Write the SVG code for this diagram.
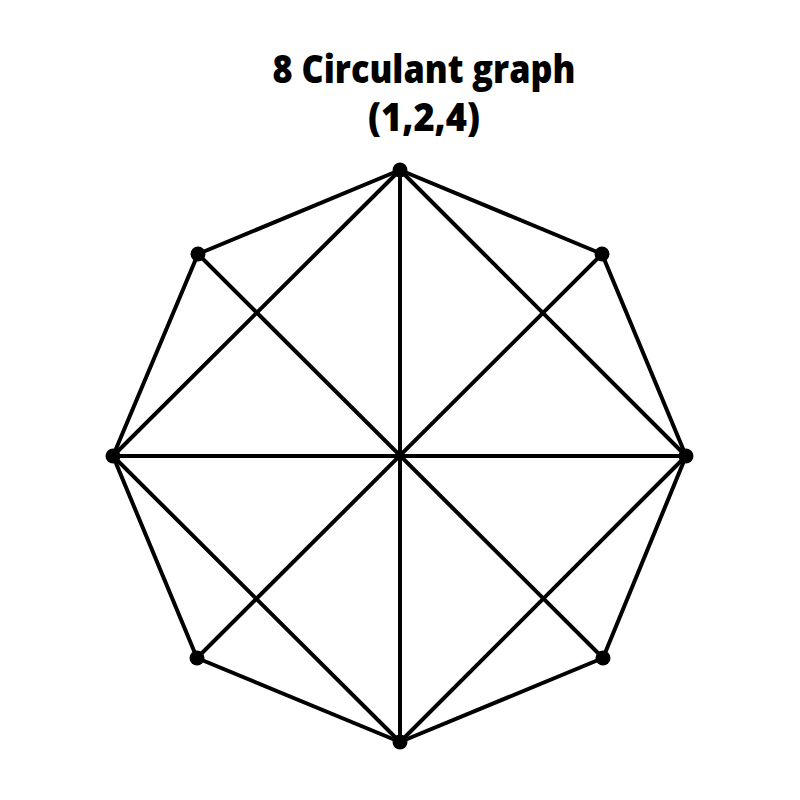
<svg xmlns="http://www.w3.org/2000/svg" width="800" height="800" viewBox="0 0 800 800">
<style>
.e{stroke:#000;stroke-width:4;stroke-linecap:round;fill:none}
.n{fill:#000}
.t{font-family:"Open Sans","Liberation Sans",sans-serif;font-weight:800;fill:#000;text-anchor:middle}
</style>
<rect width="800" height="800" fill="#fff"/>
<text class="t" x="424" y="83" font-size="38" textLength="303" lengthAdjust="spacingAndGlyphs">8 Circulant graph</text>
<text class="t" x="424" y="131" font-size="38" textLength="112" lengthAdjust="spacingAndGlyphs">(1,2,4)</text>
<g id="connectors">
<line class="e" x1="400" y1="170" x2="602" y2="254"/>
<line class="e" x1="602" y1="254" x2="686" y2="456"/>
<line class="e" x1="686" y1="456" x2="603" y2="658"/>
<line class="e" x1="603" y1="658" x2="400" y2="742"/>
<line class="e" x1="400" y1="742" x2="197" y2="658"/>
<line class="e" x1="197" y1="658" x2="113" y2="456"/>
<line class="e" x1="113" y1="456" x2="198" y2="254"/>
<line class="e" x1="198" y1="254" x2="400" y2="170"/>
<line class="e" x1="400" y1="170" x2="400" y2="742"/>
<line class="e" x1="113" y1="456" x2="686" y2="456"/>
<line class="e" x1="198" y1="254" x2="603" y2="658"/>
<line class="e" x1="602" y1="254" x2="197" y2="658"/>
<line class="e" x1="400" y1="170" x2="686" y2="456"/>
<line class="e" x1="686" y1="456" x2="400" y2="742"/>
<line class="e" x1="400" y1="742" x2="113" y2="456"/>
<line class="e" x1="113" y1="456" x2="400" y2="170"/>
</g>
<g id="v0"><circle class="n" cx="400" cy="170" r="7.5"/></g>
<g id="v1"><circle class="n" cx="602" cy="254" r="7.5"/></g>
<g id="v2"><circle class="n" cx="686" cy="456" r="7.5"/></g>
<g id="v3"><circle class="n" cx="603" cy="658" r="7.5"/></g>
<g id="v4"><circle class="n" cx="400" cy="742" r="7.5"/></g>
<g id="v5"><circle class="n" cx="197" cy="658" r="7.5"/></g>
<g id="v6"><circle class="n" cx="113" cy="456" r="7.5"/></g>
<g id="v7"><circle class="n" cx="198" cy="254" r="7.5"/></g>
</svg>
